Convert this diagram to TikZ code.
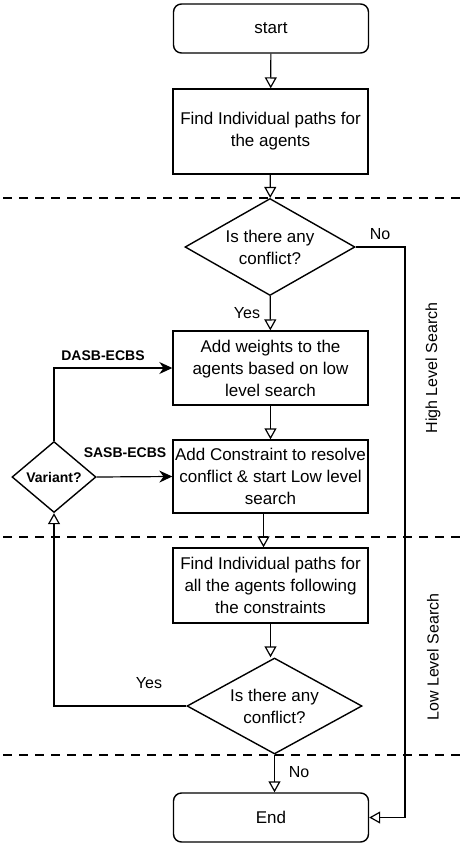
\documentclass[tikz,border=0pt]{standalone}
\usepackage{fontspec}
\setmainfont{Liberation Sans}
\usetikzlibrary{arrows.meta,shapes.geometric}

\begin{document}
\begin{tikzpicture}[x=1pt, y=-1pt, line width=1.2pt,
    stepbox/.style={draw, line width=1.4pt, minimum width=195pt, inner sep=2pt, align=center, font=\fontsize{17}{22}\selectfont},
    endbox/.style={stepbox, rounded corners=8pt, minimum height=49pt},
    decision/.style={draw, diamond, line width=1.4pt, inner sep=0pt, align=center, font=\fontsize{17}{22}\selectfont},
    flow/.style={-{Triangle[open, length=11pt, width=12pt]}},
    pick/.style={-{Stealth[length=13pt, width=12pt]}},
    lbl/.style={font=\fontsize{16}{19}\selectfont},
    variantlbl/.style={font=\bfseries\fontsize{14}{17}\selectfont},
    divider/.style={dash pattern=on 9pt off 7pt, line width=1.6pt}]
    \useasboundingbox (0, 0) rectangle (474, 846);

    % draw dividers between search levels
    \draw[divider] (3, 198) -- (465, 198);
    \draw[divider] (3, 537) -- (465, 537);
    \draw[divider] (3, 755) -- (465, 755);

    % draw boxes and decisions
    \node[endbox] (start) at (271, 28.5) {start};
    \node[stepbox, minimum height=85pt] (paths) at (270.5, 131.5) {Find Individual paths for\\the agents};
    \node[decision, shape aspect=2, minimum width=170pt, minimum height=97pt] (conflictHigh) at (270, 247) {Is there any\\conflict?};
    \node[stepbox, minimum height=74pt] (weights) at (270.5, 368) {Add weights to the\\agents based on low\\level search};
    \node[stepbox, minimum height=73pt] (constraint) at (270.5, 476.5) {Add Constraint to resolve\\conflict \& start Low level\\search};
    \node[decision, variantlbl, minimum width=84pt, minimum height=71pt] (variant) at (54, 477) {Variant?};
    \node[stepbox, minimum height=75pt] (lowPaths) at (270.5, 585.5) {Find Individual paths for\\all the agents following\\the constraints};
    \node[decision, shape aspect=2, minimum width=175pt, minimum height=96pt] (conflictLow) at (274.5, 706) {Is there any\\conflict?};
    \node[endbox] (finish) at (271, 817.5) {End};
    \coordinate (rail) at (405, 247);

    % draw connectors
    \draw[flow] (start) -- (paths);
    \draw[flow] (paths) -- (conflictHigh);
    \draw[flow] (conflictHigh) -- (weights);
    \draw[flow] (weights) -- (constraint);
    \draw[flow] ([xshift=-7pt]constraint.south) -- ([xshift=-7pt]lowPaths.north);
    \draw[flow] (lowPaths.south) -- (lowPaths.south |- conflictLow.north);
    \draw[flow] (conflictLow.south) -- (conflictLow.south |- finish.north);
    \draw[flow] (conflictLow.west) -| (variant.south);
    \draw[flow] (conflictHigh.east) -- (rail) |- (finish.east);
    \draw[pick] (variant.north) |- (weights.west);
    \draw[pick] (variant.east) -- (constraint.west);

    % draw labels
    \node[lbl] (noHigh) at (380, 234) {No};
    \node[lbl] (yesHigh) at (247, 313) {Yes};
    \node[lbl] (yesLow) at (149, 683) {Yes};
    \node[lbl] (noLow) at (299, 772) {No};
    \node[variantlbl] (dasb) at (103, 356) {DASB-ECBS};
    \node[variantlbl] (sasb) at (125, 453) {SASB-ECBS};
    \node[lbl, rotate=90] (highSearch) at (433, 368) {High Level Search};
    \node[lbl, rotate=90] (lowSearch) at (433, 657) {Low Level Search};

\end{tikzpicture}
\end{document}
